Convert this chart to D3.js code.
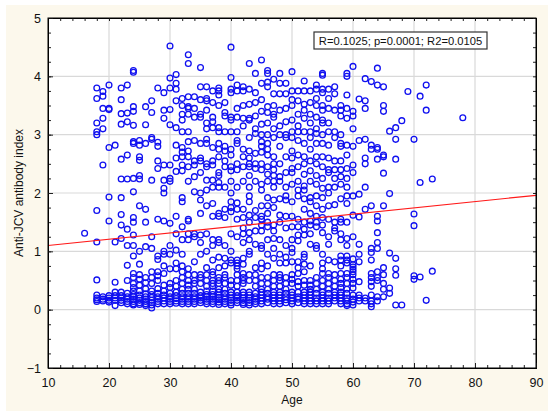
<!DOCTYPE html>
<html>
<head>
<meta charset="utf-8">
<script src="https://cdn.jsdelivr.net/npm/d3@7"></script>
<style>
  body { margin: 0; background: #fff; }
  svg { display: block; font-family: "Liberation Sans", Arial, sans-serif; }
</style>
</head>
<body>
<svg id="chart" width="550" height="417"></svg>
<script>
// values: [age, [antibody index, ...]]
const youngGroup = [
  [16, [1.31]],
  [18, [3.80, 3.62, 3.20, 3.05, 3.00, 1.70, 1.16, 0.51, 0.25, 0.20, 0.17, 0.14]],
  [19, [3.74, 3.66, 3.45, 3.28, 3.10, 2.48, 0.22, 0.18, 0.15]],
  [20, [3.85, 3.45, 3.43, 2.78, 1.93, 1.52, 0.24, 0.20, 0.16, 0.13]],
  [21, [2.82, 1.16, 0.47, 0.30, 0.24, 0.20, 0.16, 0.07]],
  [22, [3.80, 3.60, 3.36, 3.18, 2.58, 2.24, 1.92, 1.63, 1.45, 1.22, 0.30, 0.24, 0.20, 0.16, 0.12]],
  [23, [3.85, 3.37, 3.22, 2.65, 2.24, 1.38, 1.10, 0.76, 0.50, 0.28, 0.22, 0.18, 0.14, 0.10]],
  [24, [4.10, 4.07, 3.48, 3.40, 3.16, 2.88, 2.85, 2.25, 2.02, 1.58, 1.50, 1.28, 1.10, 0.92, 0.62, 0.55, 0.45, 0.38, 0.32, 0.26, 0.22, 0.18, 0.14, 0.10, 0.08]],
  [25, [2.90, 2.82, 2.62, 2.56, 2.30, 2.24, 1.78, 1.00, 0.78, 0.60, 0.52, 0.42, 0.32, 0.25, 0.20, 0.16, 0.12, 0.09]],
  [26, [3.48, 3.17, 2.85, 1.72, 1.50, 1.08, 0.55, 0.46, 0.36, 0.27, 0.22, 0.18, 0.14, 0.10, 0.07]],
  [27, [3.58, 3.38, 2.95, 2.92, 2.22, 1.25, 1.05, 0.65, 0.55, 0.45, 0.32, 0.26, 0.21, 0.16, 0.12, 0.08, 0.03]],
  [28, [3.80, 2.87, 2.80, 2.55, 2.42, 1.55, 0.92, 0.86, 0.65, 0.58, 0.50, 0.36, 0.28, 0.22, 0.18, 0.14, 0.10]],
  [29, [3.72, 3.42, 3.28, 2.48, 2.22, 2.08, 2.00, 1.52, 1.00, 0.95, 0.75, 0.62, 0.42, 0.32, 0.25, 0.20, 0.15, 0.10]],
];

const middleGroup = [
  [30, [4.52, 3.97, 3.80, 3.43, 3.17, 2.48, 2.25, 2.20, 1.48, 1.10, 0.95, 0.70, 0.45, 0.38, 0.28, 0.22, 0.18, 0.14, 0.10]],
  [31, [4.03, 3.88, 3.78, 3.58, 3.12, 2.82, 2.60, 2.37, 1.60, 1.30, 1.02, 0.80, 0.70, 0.50, 0.40, 0.30, 0.24, 0.19, 0.15, 0.11]],
  [32, [3.62, 3.50, 3.35, 3.25, 3.05, 2.78, 2.70, 2.62, 2.48, 2.38, 1.92, 1.85, 1.42, 1.20, 0.95, 0.75, 0.65, 0.55, 0.45, 0.35, 0.28, 0.22, 0.18, 0.14, 0.10]],
  [33, [4.37, 4.22, 3.65, 3.48, 3.45, 3.35, 3.05, 2.88, 2.72, 2.62, 2.45, 2.20, 1.55, 1.52, 1.30, 1.20, 0.70, 0.60, 0.50, 0.42, 0.35, 0.28, 0.22, 0.18, 0.14, 0.10]],
  [34, [3.65, 3.45, 3.30, 2.90, 2.55, 2.48, 2.28, 2.02, 1.30, 1.25, 0.82, 0.60, 0.50, 0.45, 0.35, 0.28, 0.22, 0.18, 0.14, 0.10]],
  [35, [4.15, 3.82, 3.60, 3.35, 3.30, 2.85, 2.60, 2.55, 2.35, 2.00, 1.88, 1.65, 1.28, 1.15, 0.95, 0.60, 0.55, 0.45, 0.30, 0.24, 0.20, 0.16, 0.12]],
  [36, [3.82, 3.62, 3.58, 3.42, 3.20, 3.10, 2.92, 2.85, 2.50, 2.45, 2.22, 2.05, 1.78, 1.30, 1.00, 0.72, 0.60, 0.50, 0.40, 0.32, 0.26, 0.22, 0.18, 0.14, 0.10]],
  [37, [3.75, 3.55, 3.30, 3.22, 3.12, 2.78, 2.55, 2.48, 2.22, 2.10, 1.82, 1.60, 1.20, 1.10, 0.85, 0.65, 0.60, 0.50, 0.45, 0.40, 0.32, 0.26, 0.22, 0.18, 0.14, 0.10]],
  [38, [3.80, 3.75, 3.68, 3.50, 3.12, 3.05, 2.85, 2.75, 2.62, 2.35, 2.30, 2.18, 2.10, 1.65, 1.60, 1.20, 1.15, 0.90, 0.72, 0.55, 0.50, 0.45, 0.35, 0.30, 0.25, 0.21, 0.17, 0.13, 0.09]],
  [39, [3.55, 3.38, 3.32, 3.05, 2.80, 2.72, 2.55, 2.45, 2.10, 1.72, 1.58, 1.10, 0.88, 0.75, 0.60, 0.55, 0.45, 0.35, 0.28, 0.22, 0.18, 0.14, 0.10]],
  [40, [4.50, 3.98, 3.78, 3.72, 3.30, 3.25, 3.05, 2.75, 2.65, 2.45, 2.38, 2.20, 2.00, 1.85, 1.75, 1.68, 1.30, 1.00, 0.85, 0.80, 0.50, 0.42, 0.30, 0.25, 0.20, 0.16, 0.12, 0.08]],
  [41, [3.85, 3.75, 3.45, 3.30, 3.05, 2.90, 2.85, 2.50, 2.40, 2.10, 1.83, 1.72, 1.55, 1.25, 0.85, 0.80, 0.75, 0.70, 0.60, 0.50, 0.40, 0.30, 0.24, 0.20, 0.16, 0.12]],
  [42, [3.82, 3.75, 3.50, 3.28, 3.15, 2.75, 2.62, 2.45, 2.20, 1.72, 1.58, 1.40, 1.30, 1.15, 0.88, 0.78, 0.62, 0.55, 0.50, 0.45, 0.30, 0.25, 0.20, 0.16, 0.12, 0.09]],
  [43, [4.22, 3.78, 3.52, 3.28, 3.25, 2.95, 2.72, 2.60, 2.50, 2.45, 2.30, 2.10, 1.95, 1.85, 1.62, 1.50, 1.32, 1.20, 1.00, 0.95, 0.60, 0.50, 0.30, 0.25, 0.20, 0.16, 0.12, 0.08]],
  [44, [4.05, 3.72, 3.55, 3.32, 3.10, 3.02, 2.68, 2.50, 2.42, 2.20, 1.70, 1.58, 1.35, 1.12, 0.72, 0.60, 0.50, 0.40, 0.28, 0.22, 0.18, 0.14, 0.10]],
  [45, [4.28, 3.88, 3.60, 3.40, 3.18, 3.00, 2.88, 2.80, 2.70, 2.50, 2.40, 2.15, 2.05, 1.78, 1.60, 1.55, 1.45, 1.35, 1.10, 1.05, 0.80, 0.70, 0.55, 0.45, 0.35, 0.30, 0.25, 0.20, 0.15, 0.10]],
];

const olderGroup = [
  [46, [4.10, 4.05, 3.90, 3.82, 3.48, 3.38, 3.20, 3.00, 2.85, 2.75, 2.65, 2.45, 2.32, 2.20, 1.92, 1.78, 1.65, 1.50, 1.42, 1.20, 0.95, 0.75, 0.55, 0.45, 0.35, 0.28, 0.22, 0.18, 0.12]],
  [47, [3.95, 3.70, 3.50, 3.35, 3.30, 3.10, 2.95, 2.62, 2.50, 2.40, 2.30, 2.20, 2.10, 1.88, 1.75, 1.45, 1.35, 1.22, 1.05, 0.88, 0.60, 0.50, 0.40, 0.30, 0.25, 0.20, 0.15, 0.10]],
  [48, [4.05, 3.88, 3.70, 3.42, 3.15, 3.00, 2.80, 2.50, 2.28, 2.20, 1.90, 1.62, 1.50, 1.20, 0.95, 0.80, 0.60, 0.55, 0.50, 0.40, 0.30, 0.25, 0.20, 0.15, 0.10]],
  [49, [3.88, 3.70, 3.45, 3.22, 3.00, 2.95, 2.62, 2.35, 2.10, 1.95, 1.88, 1.60, 1.40, 1.10, 0.90, 0.80, 0.55, 0.45, 0.35, 0.28, 0.22, 0.17, 0.12]],
  [50, [4.08, 3.75, 3.60, 3.50, 3.25, 3.05, 2.95, 2.72, 2.60, 2.42, 2.35, 2.15, 1.85, 1.60, 1.42, 1.20, 1.05, 0.98, 0.82, 0.60, 0.52, 0.45, 0.30, 0.25, 0.20, 0.15, 0.10]],
  [51, [3.75, 3.58, 3.35, 3.15, 3.05, 2.90, 2.65, 2.45, 2.20, 2.05, 1.95, 1.55, 1.42, 1.28, 1.18, 0.82, 0.72, 0.62, 0.48, 0.40, 0.30, 0.22, 0.18, 0.12]],
  [52, [3.92, 3.75, 3.52, 3.42, 3.28, 3.05, 2.85, 2.62, 2.50, 2.32, 2.12, 2.05, 1.90, 1.72, 1.50, 1.38, 1.28, 0.95, 0.90, 0.78, 0.65, 0.50, 0.42, 0.30, 0.25, 0.20, 0.15, 0.10]],
  [53, [3.75, 3.55, 3.35, 3.20, 3.05, 2.95, 2.75, 2.55, 2.38, 2.20, 1.92, 1.85, 1.65, 1.52, 1.45, 1.30, 1.12, 0.75, 0.50, 0.42, 0.35, 0.30, 0.25, 0.20, 0.15, 0.10]],
  [54, [3.85, 3.78, 3.62, 3.50, 3.30, 3.10, 3.02, 2.85, 2.62, 2.50, 2.30, 2.15, 1.95, 1.78, 1.60, 1.50, 1.42, 1.10, 1.05, 0.55, 0.45, 0.35, 0.28, 0.20, 0.15, 0.10]],
  [55, [4.05, 4.02, 3.78, 3.72, 3.50, 3.42, 3.25, 3.20, 3.00, 2.85, 2.62, 2.45, 2.25, 2.08, 1.92, 1.72, 1.58, 1.45, 1.32, 0.95, 0.80, 0.70, 0.62, 0.50, 0.40, 0.30, 0.25, 0.20, 0.15, 0.10]],
  [56, [3.78, 3.62, 3.45, 3.20, 3.05, 2.82, 2.60, 2.40, 2.35, 2.10, 2.00, 1.78, 1.55, 1.25, 1.12, 0.85, 0.62, 0.55, 0.45, 0.35, 0.28, 0.20, 0.15, 0.10]],
  [57, [3.82, 3.70, 3.42, 3.05, 2.95, 2.55, 2.40, 2.25, 2.10, 1.80, 1.50, 1.40, 1.35, 0.82, 0.60, 0.50, 0.40, 0.30, 0.25, 0.20, 0.15]],
  [58, [3.50, 3.42, 3.32, 3.00, 2.85, 2.80, 2.55, 2.40, 2.28, 2.15, 1.90, 1.55, 1.50, 1.30, 1.20, 0.92, 0.85, 0.75, 0.62, 0.52, 0.45, 0.38, 0.30, 0.25, 0.20, 0.15, 0.10]],
  [59, [4.05, 4.00, 3.68, 3.45, 3.28, 2.82, 2.65, 2.42, 2.25, 2.10, 1.95, 1.82, 1.50, 1.22, 1.10, 0.92, 0.85, 0.80, 0.62, 0.55, 0.45, 0.35, 0.28, 0.20, 0.15, 0.10, 0.07]],
  [60, [4.17, 3.40, 3.32, 3.10, 2.80, 2.48, 2.35, 1.95, 1.62, 1.25, 0.87, 0.77, 0.73, 0.69, 0.65, 0.60, 0.52, 0.45, 0.37, 0.25, 0.18, 0.13, 0.08]],
  [61, [3.61, 2.90, 1.98, 1.59, 1.12, 0.95, 0.82, 0.48, 0.25, 0.20, 0.15]],
  [62, [3.96, 3.58, 3.45, 2.92, 2.60, 2.50, 2.10, 1.72, 0.20, 0.15]],
  [63, [3.91, 2.82, 2.75, 1.78, 1.05, 0.98, 0.85, 0.62, 0.55, 0.48, 0.40, 0.25, 0.15, 0.10, 0.05]],
  [64, [4.14, 3.85, 2.78, 2.75, 2.58, 1.60, 1.52, 1.32, 1.15, 1.05, 0.65, 0.55, 0.50, 0.22, 0.15]],
  [65, [3.82, 3.50, 3.40, 2.65, 2.62, 2.34, 1.78, 0.72, 0.60, 0.45, 0.35, 0.22]],
  [66, [3.06, 1.99, 0.97, 0.37, 0.28]],
  [67, [3.12, 2.92, 2.58, 0.88, 0.70, 0.59, 0.08]],
  [68, [3.24, 0.08]],
  [69, [3.74]],
  [70, [2.92, 1.64, 1.44, 0.58, 0.52]],
  [71, [3.66, 2.18, 0.56]],
  [72, [3.85, 3.42, 0.16]],
  [73, [2.24, 0.66]],
  [78, [3.29]],
];

// fitted line, read at both ends of the axis
const fitAges = [10, 90];
const fitValues = [1.10, 1.96];
const statsLabel = "R=0.1025; p=0.0001; R2=0.0105";

const xTicks = [10, 20, 30, 40, 50, 60, 70, 80, 90];
const yTicks = [-1, 0, 1, 2, 3, 4, 5];

const svg = d3.select("#chart");
const plotLeft = 48, plotRight = 536, plotTop = 18, plotBottom = 368;

const x = d3.scaleLinear().domain([10, 90]).range([plotLeft, plotRight]);
const y = d3.scaleLinear().domain([-1, 5]).range([plotBottom, plotTop]);

// cream panel behind the plot
svg.append("rect")
  .attr("x", 6).attr("y", 5)
  .attr("width", 542).attr("height", 406)
  .attr("fill", "#fcf8ec");

svg.append("rect")
  .attr("x", plotLeft).attr("y", plotTop)
  .attr("width", plotRight - plotLeft).attr("height", plotBottom - plotTop)
  .attr("fill", "#fff");

// grid
const grid = svg.append("g").attr("stroke", "#d9d9d9").attr("stroke-width", 1.2);
grid.selectAll(".gx").data(xTicks.slice(1, -1)).enter().append("line")
  .attr("x1", (d) => x(d)).attr("x2", (d) => x(d))
  .attr("y1", plotTop).attr("y2", plotBottom);
grid.selectAll(".gy").data(yTicks.slice(1, -1)).enter().append("line")
  .attr("x1", plotLeft).attr("x2", plotRight)
  .attr("y1", (d) => y(d)).attr("y2", (d) => y(d));

// points
const points = [];
[youngGroup, middleGroup, olderGroup].forEach((group) => {
  group.forEach(([age, vals]) => {
    vals.forEach((v) => points.push({ age, v }));
  });
});

svg.append("g")
  .selectAll("circle")
  .data(points)
  .enter()
  .append("circle")
  .attr("cx", (d) => x(d.age))
  .attr("cy", (d) => y(d.v))
  .attr("r", 2.9)
  .attr("fill", "none")
  .attr("stroke", "#1010f0")
  .attr("stroke-width", 1.3);

// regression line
const line = d3.line().x((d) => x(d[0])).y((d) => y(d[1]));
svg.append("path")
  .attr("d", line(fitAges.map((a, i) => [a, fitValues[i]])))
  .attr("fill", "none")
  .attr("stroke", "#ff1a1a")
  .attr("stroke-width", 1.2);

// axes: inward ticks on all four sides
const xMinor = d3.range(10, 91, 2);
const yMinor = d3.range(-1, 5.01, 0.25);

svg.append("g")
  .attr("transform", `translate(0,${plotBottom})`)
  .call(d3.axisBottom(x).tickValues(xMinor).tickSize(-3).tickFormat(""));
svg.append("g")
  .attr("transform", `translate(0,${plotTop})`)
  .call(d3.axisTop(x).tickValues(xMinor).tickSize(-3).tickFormat(""));
svg.append("g")
  .attr("transform", `translate(${plotLeft},0)`)
  .call(d3.axisLeft(y).tickValues(yMinor).tickSize(-3).tickFormat(""));
svg.append("g")
  .attr("transform", `translate(${plotRight},0)`)
  .call(d3.axisRight(y).tickValues(yMinor).tickSize(-3).tickFormat(""));

const xAxis = svg.append("g")
  .attr("transform", `translate(0,${plotBottom})`)
  .call(d3.axisBottom(x).tickValues(xTicks).tickSize(-5).tickPadding(10).tickFormat(d3.format("d")));
const yAxis = svg.append("g")
  .attr("transform", `translate(${plotLeft},0)`)
  .call(d3.axisLeft(y).tickValues(yTicks).tickSize(-5).tickPadding(7).tickFormat(d3.format("d")));

svg.selectAll(".domain").attr("stroke", "#000");
svg.selectAll(".tick line").attr("stroke", "#222");
[xAxis, yAxis].forEach((a) => {
  a.selectAll("text")
    .attr("font-family", "'Liberation Sans', Arial, sans-serif")
    .attr("font-size", 12.5)
    .attr("fill", "#111");
});

// frame on top
svg.append("rect")
  .attr("x", plotLeft).attr("y", plotTop)
  .attr("width", plotRight - plotLeft).attr("height", plotBottom - plotTop)
  .attr("fill", "none")
  .attr("stroke", "#000")
  .attr("stroke-width", 1);

// axis titles
svg.append("text")
  .attr("x", (plotLeft + plotRight) / 2)
  .attr("y", 404)
  .attr("text-anchor", "middle")
  .attr("font-size", 12)
  .attr("fill", "#111")
  .text("Age");

svg.append("text")
  .attr("transform", `translate(23,${(plotTop + plotBottom) / 2}) rotate(-90)`)
  .attr("text-anchor", "middle")
  .attr("font-size", 12)
  .attr("fill", "#111")
  .text("Anti-JCV antibody index");

// stats box
const stats = svg.append("g");
stats.append("rect")
  .attr("x", 314).attr("y", 32)
  .attr("width", 173).attr("height", 17)
  .attr("fill", "#fff")
  .attr("stroke", "#333")
  .attr("stroke-width", 1.2);
stats.append("text")
  .attr("x", 400.5)
  .attr("y", 44.5)
  .attr("text-anchor", "middle")
  .attr("font-size", 11.2)
  .attr("fill", "#111")
  .text(statsLabel);
</script>
</body>
</html>
